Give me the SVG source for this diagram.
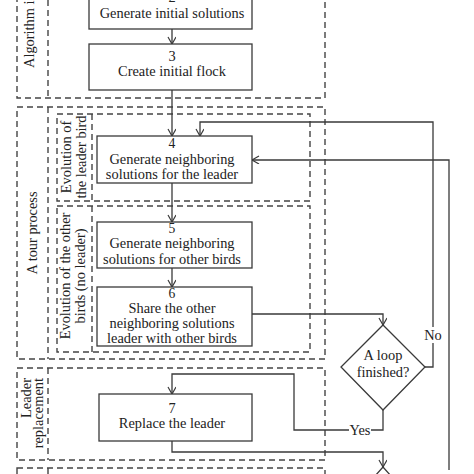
<svg xmlns="http://www.w3.org/2000/svg" width="474" height="474" viewBox="0 0 474 474">
<style>
.box{fill:#fff;stroke:#3a3a3a;stroke-width:1.3}
.dash{fill:none;stroke:#444;stroke-width:1.4;stroke-dasharray:6 4}
.con{fill:none;stroke:#3a3a3a;stroke-width:1.3}
text{font-family:"Liberation Serif","Times New Roman",serif;font-size:14.4px;fill:#222}
.c{text-anchor:middle}
.n{font-size:13.6px}
</style>
<defs>
<marker id="arr" markerWidth="10" markerHeight="10" refX="8" refY="4" orient="auto" markerUnits="userSpaceOnUse">
<path d="M1,0 L8,4 L1,8" fill="none" stroke="#3a3a3a" stroke-width="1.2"/>
</marker>
</defs>
<rect width="474" height="474" fill="#fff"/>

<g id="group-algorithm">
<rect class="dash" x="17" y="-10" width="308" height="108"/>
<line class="dash" x1="48" y1="-10" x2="48" y2="98"/>
<text transform="translate(34,68) rotate(-90)">Algorithm i</text>
</g>
<g id="group-tour">
<rect class="dash" x="17" y="107" width="308" height="252"/>
<line class="dash" x1="48" y1="107" x2="48" y2="359"/>
<text class="c" transform="translate(37,233) rotate(-90)">A tour process</text>
</g>
<g id="group-leader-evo">
<rect class="dash" x="57" y="114" width="253" height="87"/>
<line class="dash" x1="92" y1="114" x2="92" y2="201"/>
<text class="c" transform="translate(71,157) rotate(-90)">Evolution of</text>
<text class="c" transform="translate(86,157) rotate(-90)">the leader bird</text>
</g>
<g id="group-other-evo">
<rect class="dash" x="57" y="206" width="253" height="146"/>
<line class="dash" x1="92" y1="206" x2="92" y2="352"/>
<text class="c" transform="translate(70,276) rotate(-90)">Evolution of the other</text>
<text class="c" transform="translate(85,276) rotate(-90)">birds (no leader)</text>
</g>
<g id="group-replacement">
<rect class="dash" x="17" y="368" width="308" height="92"/>
<line class="dash" x1="48" y1="368" x2="48" y2="460"/>
<text transform="translate(31,378) rotate(-90)" text-anchor="end">Leader</text>
<text transform="translate(43,378) rotate(-90)" text-anchor="end">replacement</text>
</g>
<g id="group-next">
<rect class="dash" x="17" y="468" width="308" height="20"/>
<line class="dash" x1="48" y1="468" x2="48" y2="480"/>
</g>

<g id="connectors">
<line class="con" x1="172" y1="29" x2="172" y2="44" marker-end="url(#arr)"/>
<line class="con" x1="172" y1="90" x2="172" y2="136" marker-end="url(#arr)"/>
<line class="con" x1="172" y1="183" x2="172" y2="222" marker-end="url(#arr)"/>
<line class="con" x1="172" y1="268" x2="172" y2="287" marker-end="url(#arr)"/>
<polyline class="con" points="252,314 383,314 383,325" marker-end="url(#arr)"/>
<polyline class="con" points="425,367 433,367 433,122 200,122 200,136" marker-end="url(#arr)"/>
<polyline class="con" points="449,470 449,160 252,160" marker-end="url(#arr)"/>
<polyline class="con" points="383,410 383,430 294,430 294,374 172,374 172,394" marker-end="url(#arr)"/>
<polyline class="con" points="172,441 172,452 383,452 383,467" marker-end="url(#arr)"/>
<rect x="349" y="422" width="22" height="16" fill="#fff"/>
<text class="c" x="360" y="435">Yes</text>
<rect x="423" y="327" width="20" height="16" fill="#fff"/>
<text class="c" x="433" y="340">No</text>
</g>

<g id="node2">
<rect class="box" x="89" y="-20" width="163" height="49"/>
<text class="c" x="172" y="2">2</text>
<text class="c" x="172" y="18">Generate initial solutions</text>
</g>
<g id="node3">
<rect class="box" x="89" y="44" width="163" height="46"/>
<text class="c" x="172" y="61">3</text>
<text class="c" x="172" y="76">Create initial flock</text>
</g>
<g id="node4">
<rect class="box" x="97" y="136" width="155" height="47"/>
<text class="c n" x="172" y="148">4</text>
<text class="c" x="172" y="164">Generate neighboring</text>
<text class="c" x="172" y="179">solutions for the leader</text>
</g>
<g id="node5">
<rect class="box" x="97" y="222" width="155" height="46"/>
<text class="c n" x="172" y="233">5</text>
<text class="c" x="172" y="248">Generate neighboring</text>
<text class="c" x="172" y="264">solutions for other birds</text>
</g>
<g id="node6">
<rect class="box" x="97" y="287" width="155" height="59"/>
<text class="c n" x="172" y="298">6</text>
<text class="c" x="172" y="313">Share the other</text>
<text class="c" x="172" y="328">neighboring solutions</text>
<text class="c" x="172" y="343">leader with other birds</text>
</g>
<g id="decision">
<polygon class="box" points="383,325 425,367 383,410 341,367"/>
<text class="c" x="383" y="360">A loop</text>
<text class="c" x="383" y="377">finished?</text>
</g>
<g id="node7">
<rect class="box" x="99" y="394" width="153" height="47"/>
<text class="c" x="172" y="413">7</text>
<text class="c" x="172" y="428">Replace the leader</text>
</g>
<g id="next-decision">
<polyline class="con" points="375,476 383,467 391,476"/>
</g>
</svg>
